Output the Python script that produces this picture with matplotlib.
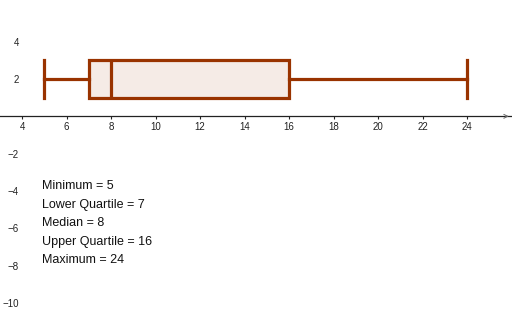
"""Box plot of a five-number summary, GeoGebra style."""

import matplotlib
matplotlib.use('Agg')
import matplotlib.pyplot as plt
from matplotlib.ticker import FixedLocator

# five-number summary
stat_names = ['Minimum', 'Lower Quartile', 'Median', 'Upper Quartile', 'Maximum']
stat_values = [5, 7, 8, 16, 24]
box_y = 2
box_height = 2

x_ticks = list(range(4, 26, 2))
y_ticks = [-10, -8, -6, -4, -2, 2, 4]

edge = '#993300'
fill = '#f5ebe6'

plt.rcParams['font.family'] = ['Liberation Sans', 'DejaVu Sans']

fig = plt.figure(figsize=(5.12, 3.23), dpi=100)
ax = fig.add_axes([0, 0, 1, 1])
ax.set_xlim(3.01, 26.02)
ax.set_ylim(-11.07, 6.23)

mn, q1, med, q3, mx = stat_values
stats = [{'whislo': mn, 'q1': q1, 'med': med, 'q3': q3, 'whishi': mx, 'fliers': []}]
ax.bxp(stats, positions=[box_y], widths=box_height, vert=False, patch_artist=True,
       showfliers=False, manage_ticks=False,
       boxprops=dict(facecolor=fill, edgecolor=edge, linewidth=2.3),
       medianprops=dict(color=edge, linewidth=2.3),
       whiskerprops=dict(color=edge, linewidth=2.3),
       capprops=dict(color=edge, linewidth=2.3),
       capwidths=box_height)

# axes
for side in ['top', 'right', 'left']:
    ax.spines[side].set_visible(False)
ax.spines['bottom'].set_position(('data', 0))
ax.spines['bottom'].set_linewidth(0.9)
ax.spines['bottom'].set_color('#222222')
ax.annotate('', xy=(26.0, 0), xytext=(25.6, 0),
            arrowprops=dict(arrowstyle='->', color='#666666', lw=0.7,
                            mutation_scale=7))

ax.xaxis.set_major_locator(FixedLocator(x_ticks))
ax.set_xticklabels([str(t) for t in x_ticks])
ax.tick_params(axis='x', direction='out', length=2.5, width=0.8, labelsize=7,
               pad=1.5, colors='#222222')

ax.yaxis.set_major_locator(FixedLocator(y_ticks))
ax.set_yticklabels([str(t).replace('-', '\u2212') for t in y_ticks])
ax.tick_params(axis='y', length=0, labelsize=7, pad=-13.5, colors='#222222')

for i, (name, val) in enumerate(zip(stat_names, stat_values)):
    ax.text(42 / 512, 1 - (186 + i * 18.6) / 323, f'{name} = {val}',
            transform=ax.transAxes, fontsize=9, va='center', ha='left', color='#111111')

fig.savefig('out.png', dpi=100)
